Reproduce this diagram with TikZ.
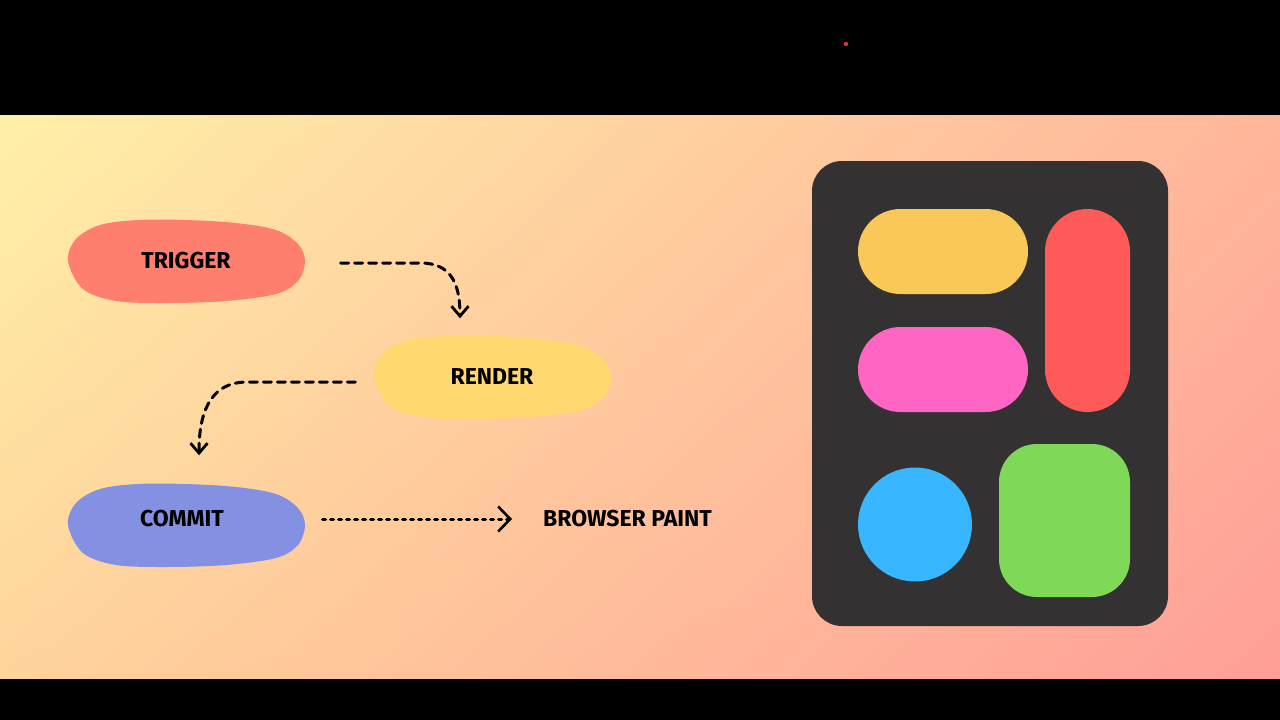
\documentclass[tikz,border=0pt]{standalone}
\usepackage{fontspec}
\setmainfont{Fira Sans}
\usetikzlibrary{arrows.meta,calc,shadings,shapes.geometric}
\definecolor{bgTL}{HTML}{FFF0A8}
\definecolor{bgTR}{HTML}{FFB69A}
\definecolor{bgBL}{HTML}{FFD49C}
\definecolor{bgBR}{HTML}{FF9E98}
\definecolor{trigC}{HTML}{FF7F6E}
\definecolor{rendC}{HTML}{FFD970}
\definecolor{commC}{HTML}{8490E2}
\definecolor{panelC}{HTML}{333131}
\definecolor{pYel}{HTML}{FAC858}
\definecolor{pRed}{HTML}{FF5A5A}
\definecolor{pPink}{HTML}{FF66C4}
\definecolor{pBlue}{HTML}{38B6FF}
\definecolor{pGreen}{HTML}{7ED957}
\definecolor{dotC}{HTML}{D23A3A}
\tikzset{
  stagelabel/.style={font=\fontsize{23}{27}\selectfont\bfseries, text=black},
  stagenode/.style={stagelabel, shape=ellipse, minimum width=237pt, minimum height=83pt, inner sep=0pt},
  flowdash/.style={draw=black, line width=3pt, dash pattern=on 8pt off 6pt, line cap=round,
    -{Straight Barb[length=10pt,width=17pt,line width=2.8pt]}},
  flowdot/.style={draw=black, line width=3pt, dash pattern=on 3pt off 5pt, line cap=round,
    -{Straight Barb[length=12pt,width=25pt,line width=2.6pt]}},
}
\newcommand{\blobshape}[2]{%
  \fill[#2] plot[smooth cycle, tension=0.55] coordinates {
    ($(#1)+(-118,0)$) ($(#1)+(-110,-22)$) ($(#1)+(-86,-36)$) ($(#1)+(-48,-41)$)
    ($(#1)+(0,-41)$) ($(#1)+(50,-38)$) ($(#1)+(90,-31)$) ($(#1)+(112,-17)$)
    ($(#1)+(119,0)$) ($(#1)+(112,20)$) ($(#1)+(90,33)$) ($(#1)+(40,40)$)
    ($(#1)+(-20,42)$) ($(#1)+(-70,40)$) ($(#1)+(-103,28)$)};}
\begin{document}
\begin{tikzpicture}[x=1pt,y=-1pt]
\useasboundingbox (0,0) rectangle (1280,720);
% black frame and gradient background
\fill[black] (0,0) rectangle (1280,720);
\shade[upper left=bgTL, upper right=bgTR, lower left=bgBL, lower right=bgBR] (0,115) rectangle (1280,678);
\fill[dotC] (846,44) circle (2.2);
% blobs
\coordinate (ctrig) at (186,261);
\coordinate (crend) at (492,377);
\coordinate (ccomm) at (186,525);
\blobshape{ctrig}{trigC}
\blobshape{crend}{rendC}
\blobshape{ccomm}{commC}
% nodes
\node[stagenode] (trigger) at (ctrig) {TRIGGER};
\node[stagenode] (render) at (crend) {RENDER};
\node[stagenode] (commit) at ([xshift=-4pt,yshift=6pt]ccomm) {COMMIT};
\node[stagelabel, anchor=west, inner sep=0pt] (paint) at (543,519) {BROWSER PAINT};
% connector ends
\coordinate (tout) at ([xshift=36pt,yshift=-2pt]trigger.east);
\coordinate (rin) at ([xshift=-32pt,yshift=17pt]render.north);
\coordinate (rout) at ([xshift=-18pt,yshift=-5pt]render.west);
\coordinate (cin) at ([xshift=17pt,yshift=22pt]commit.north);
\coordinate (cout) at ([xshift=22pt,yshift=0pt]commit.east);
\coordinate (pin) at ([xshift=-31pt,yshift=0pt]paint.west);
% connectors
\draw[flowdash] (tout) -- ++(80,0) .. controls +(32,0) and +(0,-32) .. (rin);
\draw[flowdash] (rout) -- ++(-108,0) .. controls +(-40,0) and +(0,-38) .. (cin);
\draw[flowdot] (cout) -- (pin);
% right panel
\fill[panelC, rounded corners=30pt] (812,161) rectangle (1168,626);
\fill[pYel, rounded corners=42.5pt] (858,209) rectangle (1028,294);
\fill[pPink, rounded corners=42.5pt] (858,327) rectangle (1028,412);
\fill[pRed, rounded corners=42.5pt] (1045,209) rectangle (1130,412);
\fill[pBlue] (915,524.5) circle (57);
\fill[pGreen, rounded corners=38pt] (999,444) rectangle (1130,597);
\end{tikzpicture}
\end{document}
